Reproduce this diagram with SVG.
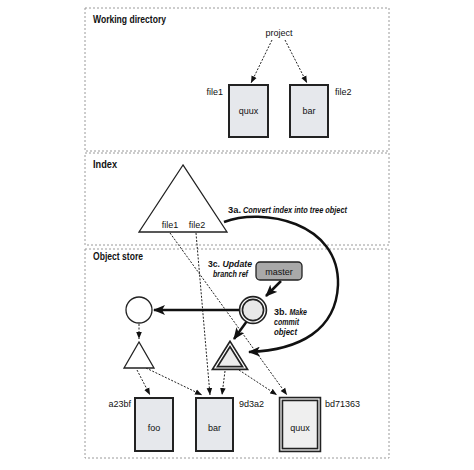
<svg xmlns="http://www.w3.org/2000/svg" width="474" height="470" viewBox="0 0 474 470">
<defs>
<style>
.panel{fill:#fff;stroke:#9a9a9a;stroke-width:1;stroke-dasharray:2 2}
.h{font-family:"Liberation Sans",Arial,sans-serif;font-weight:bold;font-size:10.5px;fill:#111}
.t{font-family:"Liberation Sans",Arial,sans-serif;font-size:9px;fill:#111}
.b{font-family:"Liberation Sans",Arial,sans-serif;font-size:9.5px;font-weight:bold;fill:#111}
.bi{font-family:"Liberation Sans",Arial,sans-serif;font-size:9.5px;font-weight:bold;font-style:italic;fill:#111}
.s{font-size:8.2px}
.file{fill:#e6e8ec;stroke:#222;stroke-width:2}
.dot{fill:none;stroke:#222;stroke-width:1;stroke-dasharray:2 1.5}
.thick{fill:none;stroke:#111;stroke-width:2.5}
.dbl-o{stroke:#222;stroke-width:4.5}
.dbl-i{fill:none;stroke:#fff;stroke-width:1.2}
</style>
<marker id="ad" viewBox="0 0 10 10" refX="10" refY="5" markerWidth="7" markerHeight="7" markerUnits="userSpaceOnUse" orient="auto"><path d="M0,1 L10,5 L0,9 z" fill="#111"/></marker>
<marker id="at" viewBox="0 0 12 10" refX="11" refY="5" markerWidth="12" markerHeight="10" markerUnits="userSpaceOnUse" orient="auto"><path d="M0,0 L12,5 L0,10 L3,5 z" fill="#111"/></marker>
</defs>
<rect width="474" height="470" fill="#fff"/>

<g id="panels">
<rect class="panel" x="85" y="8" width="304" height="143"/>
<rect class="panel" x="85" y="153" width="304" height="92"/>
<rect class="panel" x="85" y="249" width="304" height="209"/>
<text class="h" x="93" y="23" textLength="73" lengthAdjust="spacingAndGlyphs">Working directory</text>
<text class="h" x="93" y="168" textLength="24" lengthAdjust="spacingAndGlyphs">Index</text>
<text class="h" x="93" y="260" textLength="50" lengthAdjust="spacingAndGlyphs">Object store</text>
</g>

<g id="connectors">
<line class="dot" x1="272" y1="40" x2="251" y2="83" marker-end="url(#ad)"/>
<line class="dot" x1="285" y1="40" x2="307" y2="83" marker-end="url(#ad)"/>
<line class="dot" x1="170" y1="233" x2="287" y2="395" marker-end="url(#ad)"/>
<line class="dot" x1="196" y1="233" x2="210" y2="395" marker-end="url(#ad)"/>
<line class="dot" x1="139" y1="324" x2="139" y2="339" marker-end="url(#ad)"/>
<line class="dot" x1="137" y1="370" x2="150" y2="395" marker-end="url(#ad)"/>
<line class="dot" x1="146" y1="368" x2="202" y2="395" marker-end="url(#ad)"/>
<line class="dot" x1="225" y1="371" x2="222" y2="395" marker-end="url(#ad)"/>
<line class="dot" x1="239" y1="370" x2="277" y2="395" marker-end="url(#ad)"/>
<path class="thick" d="M224,222 C262,207 340,222 338,285 C336,330 300,350 249,352" marker-end="url(#at)"/>
<line class="thick" x1="281" y1="281" x2="266" y2="296" marker-end="url(#at)"/>
<line class="thick" x1="240" y1="310" x2="154" y2="310" marker-end="url(#at)"/>
<line class="thick" x1="247" y1="321" x2="234" y2="339" marker-end="url(#at)"/>
</g>

<g id="project"><text class="t" x="279" y="36" text-anchor="middle">project</text></g>
<g id="wd-quux">
<rect class="file" x="229" y="85" width="39" height="52"/>
<text class="t" x="248.5" y="114" text-anchor="middle">quux</text>
<text class="t" x="223" y="95" text-anchor="end">file1</text>
</g>
<g id="wd-bar">
<rect class="file" x="290" y="85" width="38" height="52"/>
<text class="t" x="309" y="114" text-anchor="middle">bar</text>
<text class="t" x="335" y="95">file2</text>
</g>

<g id="index-tree">
<polygon points="183,165 139,232 227,232" fill="#fff" stroke="#222" stroke-width="1.3"/>
<text class="t" x="170" y="228" text-anchor="middle">file1</text>
<text class="t" x="197" y="228" text-anchor="middle">file2</text>
</g>

<g id="label-3a">
<text class="b" x="228" y="213" textLength="13" lengthAdjust="spacingAndGlyphs">3a.</text>
<text class="bi" x="243" y="213" textLength="104" lengthAdjust="spacingAndGlyphs">Convert index into tree object</text>
</g>
<g id="label-3c">
<text class="b s" x="208" y="267" textLength="12" lengthAdjust="spacingAndGlyphs">3c.</text>
<text class="bi s" x="222.5" y="267" textLength="29.5" lengthAdjust="spacingAndGlyphs">Update</text>
<text class="bi s" x="213" y="277" textLength="35" lengthAdjust="spacingAndGlyphs">branch ref</text>
</g>
<g id="label-3b">
<text class="b s" x="274" y="315" textLength="13" lengthAdjust="spacingAndGlyphs">3b.</text>
<text class="bi s" x="289.5" y="315" textLength="17.5" lengthAdjust="spacingAndGlyphs">Make</text>
<text class="bi s" x="274" y="325" textLength="25" lengthAdjust="spacingAndGlyphs">commit</text>
<text class="bi s" x="274" y="335" textLength="23" lengthAdjust="spacingAndGlyphs">object</text>
</g>

<g id="master">
<rect x="256" y="262" width="46" height="18" rx="4" fill="#a9a9a9" stroke="#222" stroke-width="1.3"/>
<text class="t" x="279" y="274.5" text-anchor="middle">master</text>
</g>
<g id="commit">
<circle class="dbl-o" cx="253" cy="310" r="12" fill="#e8e8e8"/>
<circle class="dbl-i" cx="253" cy="310" r="12"/>
</g>
<g id="parent-commit"><circle cx="139" cy="310" r="13" fill="#fff" stroke="#222" stroke-width="1.3"/></g>
<g id="old-tree"><polygon points="139,342 124,368 154,368" fill="#fff" stroke="#222" stroke-width="1.3"/></g>
<g id="new-tree">
<polygon class="dbl-o" points="230,344 215,368 245,368" fill="#ececec" stroke-linejoin="miter"/>
<polygon class="dbl-i" points="230,344 215,368 245,368"/>
</g>

<g id="blob-foo">
<rect class="file" x="135" y="398" width="38" height="53"/>
<text class="t" x="154" y="431" text-anchor="middle">foo</text>
<text class="t" x="131" y="407" text-anchor="end">a23bf</text>
</g>
<g id="blob-bar">
<rect class="file" x="196" y="398" width="37" height="53"/>
<text class="t" x="214.5" y="431" text-anchor="middle">bar</text>
<text class="t" x="239" y="407">9d3a2</text>
</g>
<g id="blob-quux">
<rect class="dbl-o" x="281" y="399" width="38" height="51" fill="#efefef"/>
<rect class="dbl-i" x="281" y="399" width="38" height="51"/>
<text class="t" x="300" y="431" text-anchor="middle">quux</text>
<text class="t" x="325" y="407">bd71363</text>
</g>
</svg>
